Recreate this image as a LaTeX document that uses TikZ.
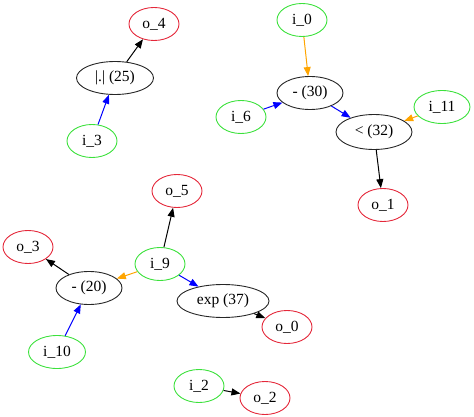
\documentclass[tikz,border=0pt]{standalone}
\usepackage{fontspec}
\setmainfont{Liberation Serif}
\usetikzlibrary{shapes.geometric}
\usetikzlibrary{arrows.meta}

\definecolor{ingreen}{RGB}{60,225,60}
\definecolor{outred}{RGB}{228,40,58}
\definecolor{edgeorange}{RGB}{255,165,0}
\definecolor{edgeblue}{RGB}{0,0,255}

\tikzset{
  gnode/.style={ellipse,draw,line width=0.9pt,inner sep=0pt,minimum width=50pt,minimum height=33pt,font=\fontsize{15.5pt}{17pt}\selectfont},
  innode/.style={gnode,draw=ingreen},
  outnode/.style={gnode,draw=outred},
  opnode/.style={gnode,draw=black!85},
  edge/.style={line width=1pt,-{Triangle[length=9pt,width=7pt]}}
}

\begin{document}
\begin{tikzpicture}[x=1pt,y=-1pt]
\useasboundingbox (0,0) rectangle (474,417);
\node[outnode] (o4) at (154,24) {o\_4};
\node[opnode,minimum width=77pt] (abs25) at (115,78) {|.| (25)};
\node[innode] (i3) at (92,141) {i\_3};
\node[innode] (i0) at (302,20) {i\_0};
\node[opnode,minimum width=66pt] (sub30) at (310,93) {- (30)};
\node[innode] (i6) at (241,117) {i\_6};
\node[innode,minimum width=56pt] (i11) at (442,107) {i\_11};
\node[opnode,minimum width=76pt,minimum height=35pt] (lt32) at (374,132) {< (32)};
\node[outnode] (o1) at (383,205) {o\_1};
\node[outnode] (o5) at (177,191) {o\_5};
\node[outnode] (o3) at (28,247) {o\_3};
\node[innode] (i9) at (160,264) {i\_9};
\node[opnode,minimum width=66pt] (sub20) at (89,288) {- (20)};
\node[opnode,minimum width=92pt] (exp37) at (223,301) {exp (37)};
\node[outnode] (o0) at (287,327) {o\_0};
\node[innode,minimum width=57pt] (i10) at (57,352) {i\_10};
\node[innode] (i2) at (199,386) {i\_2};
\node[outnode] (o2) at (265,398) {o\_2};
\draw[edge] (abs25) -- (o4);
\draw[edge,edgeblue] (i3) -- (abs25);
\draw[edge,edgeorange] (i0) -- (sub30);
\draw[edge,edgeblue] (i6) -- (sub30);
\draw[edge,edgeblue] (sub30) -- (lt32);
\draw[edge,edgeorange] (i11) -- (lt32);
\draw[edge] (lt32) -- (o1);
\draw[edge] (i9) -- (o5);
\draw[edge,edgeorange] (i9) -- (sub20);
\draw[edge,edgeblue] (i9) -- (exp37);
\draw[edge] (sub20) -- (o3);
\draw[edge,edgeblue] (i10) -- (sub20);
\draw[edge] (exp37) -- (o0);
\draw[edge] (i2) -- (o2);
\end{tikzpicture}
\end{document}
